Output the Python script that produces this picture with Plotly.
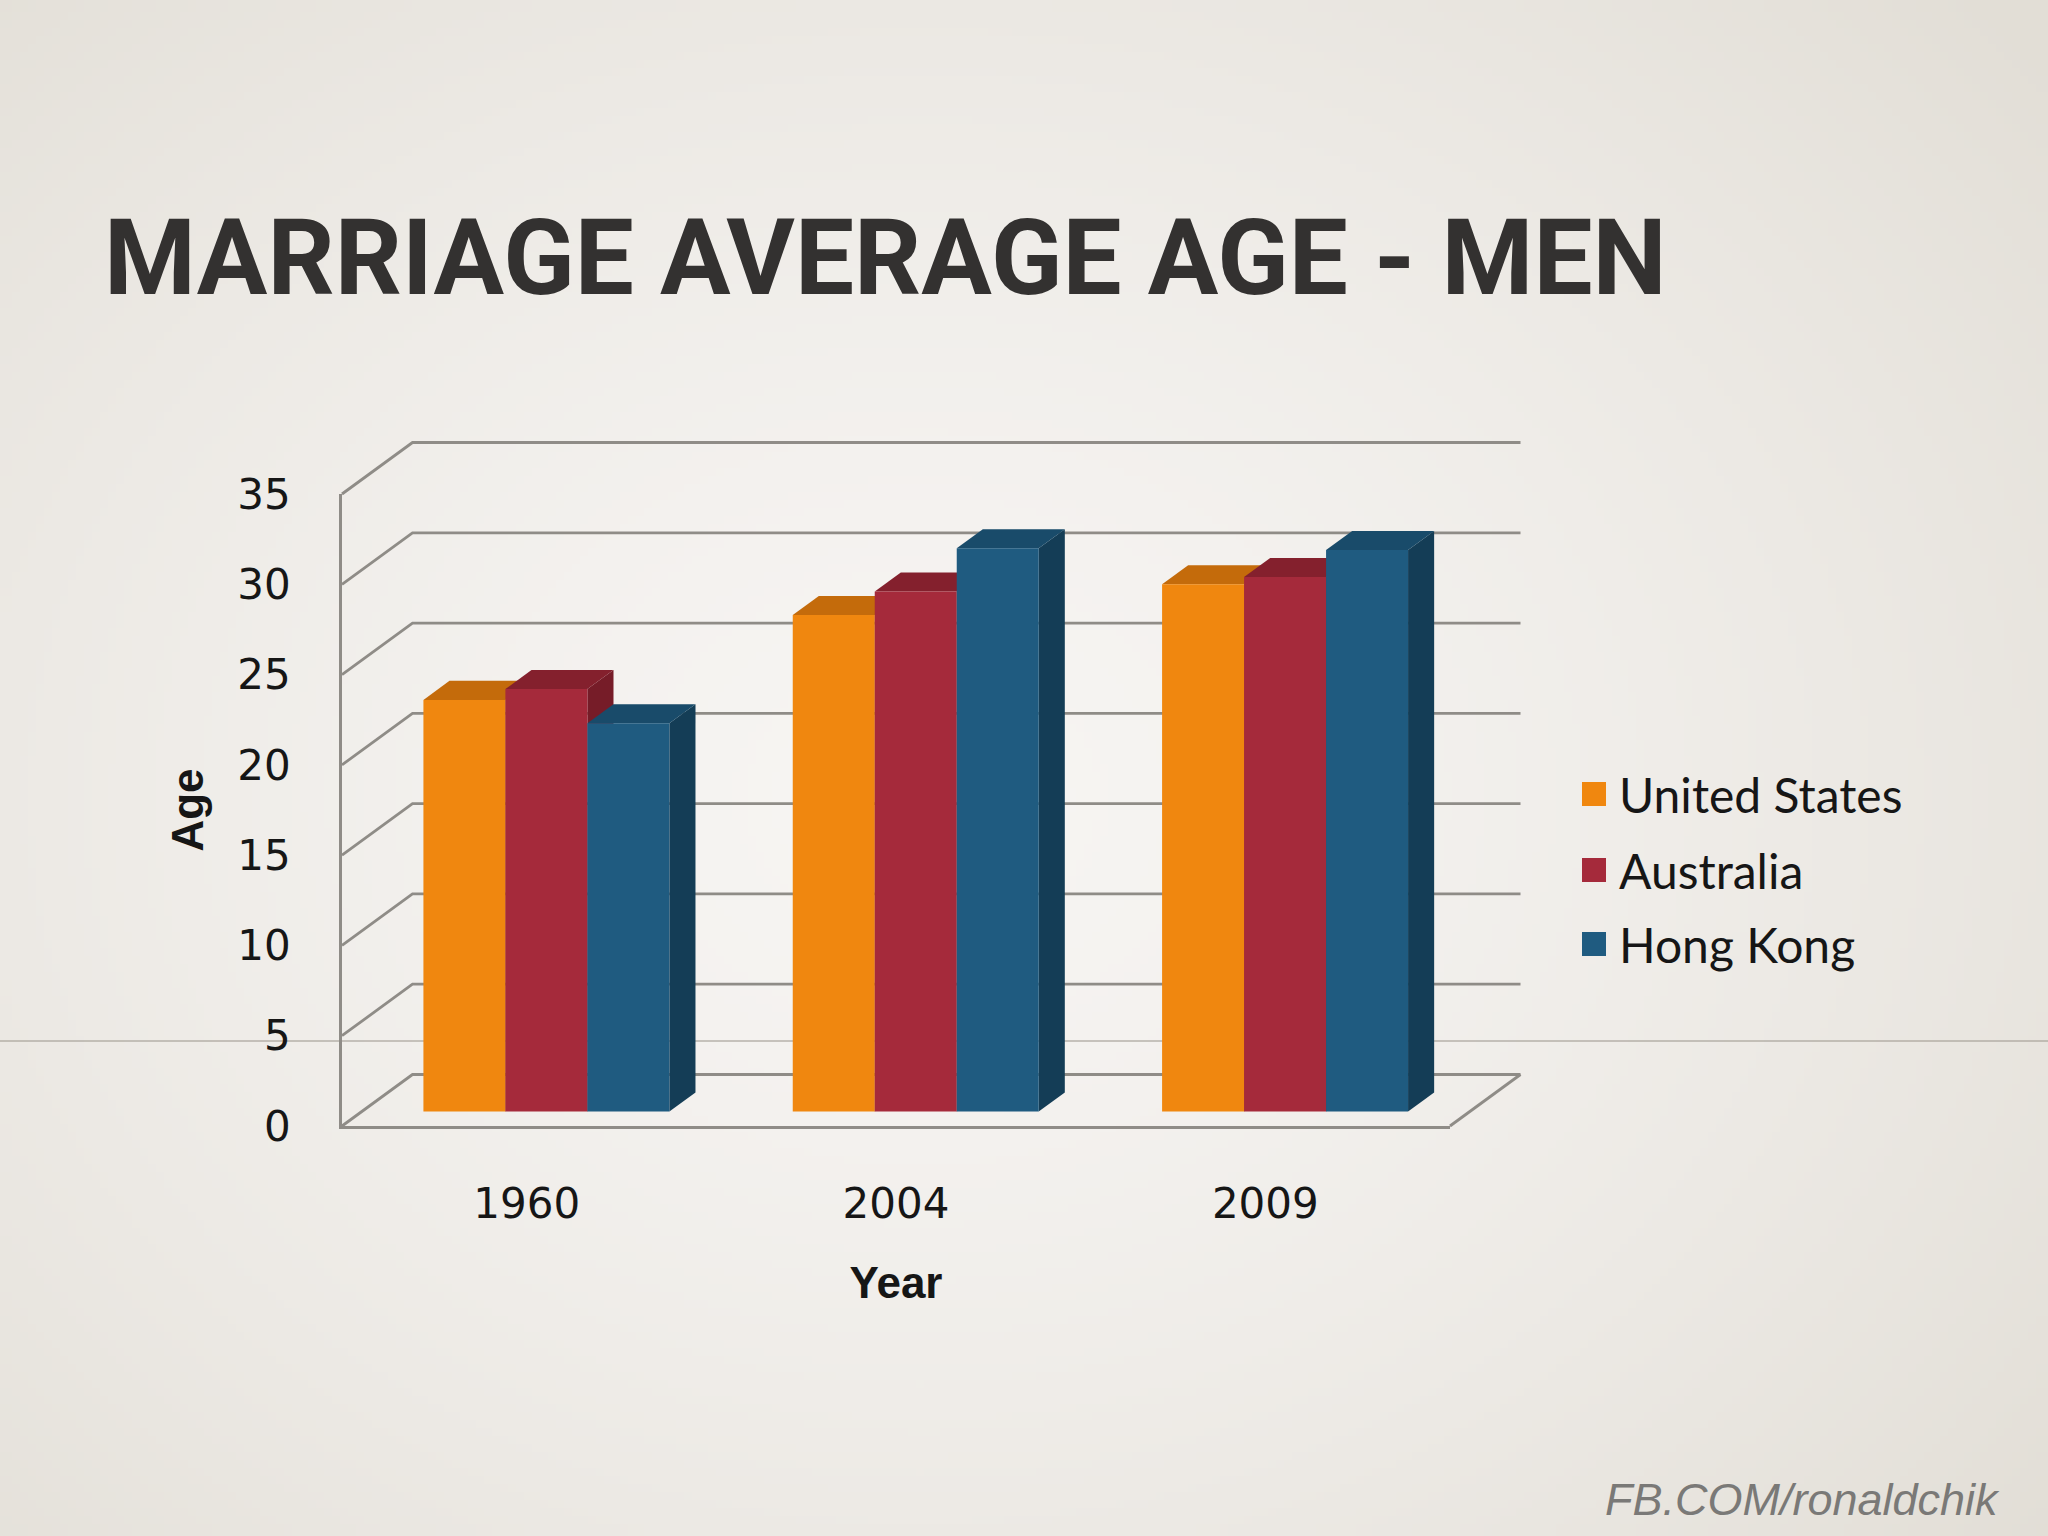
import base64
import struct
import zlib

import numpy as np
import plotly.graph_objects as go

# ---------------- data ----------------
YEARS = ["1960", "2004", "2009"]
SERIES = ["United States", "Australia", "Hong Kong"]
UNITED_STATES = [22.8, 27.5, 29.2]
AUSTRALIA = [23.4, 28.8, 29.6]
HONG_KONG = [21.5, 31.2, 31.1]
Y_TICKS = [0, 5, 10, 15, 20, 25, 30, 35]
TITLE = "MARRIAGE AVERAGE AGE - MEN"
X_TITLE = "Year"
Y_TITLE = "Age"
CREDIT = "FB.COM/ronaldchik"

VALUES = [UNITED_STATES, AUSTRALIA, HONG_KONG]

# ---------------- style / layout constants ----------------
FIG_W, FIG_H = 2048, 1536
FRONT_L, FRONT_R = 342.0, 1450.0      # front (axis) plane, px
FRONT_Y0, FRONT_YTOP = 1126.0, 494.0  # px of 0 and of top tick on the front plane
DEPTH_DX, DEPTH_DY = 70.5, 51.5       # full depth of the 3-D box, px (right, up)
BAR_FRONT_F, BAR_BACK_F = 0.28, 0.65  # bar front/back planes as depth fractions
BAR_W = 0.222                         # bar width in category units

FRONT_COLORS = ["#f0870f", "#a52a3b", "#1f5b80"]
TOP_COLORS = ["#c46b0b", "#84202d", "#194b6a"]
SIDE_COLORS = ["#b05f09", "#761c28", "#143d56"]
GRID_COLOR = "#8f8c87"
TEXT_COLOR = "#161616"

y_max = Y_TICKS[-1]
n_cat = len(YEARS)
band = (FRONT_R - FRONT_L) / n_cat
y_unit = (FRONT_Y0 - FRONT_YTOP) / y_max
dxu = DEPTH_DX / band
dyu = DEPTH_DY / y_unit

# main (bar-plane) axes span the whole figure
bar_x0_px = FRONT_L + BAR_FRONT_F * DEPTH_DX
x_min = -0.5 - bar_x0_px / band
x_max = x_min + FIG_W / band
bar_y0_px = FRONT_Y0 - BAR_FRONT_F * DEPTH_DY
y_min = -(FIG_H - bar_y0_px) / y_unit
y_max_axis = y_min + FIG_H / y_unit


def P(x, v, f):
    """point at category position x, value v, depth fraction f (0 front, 1 back)"""
    return x + (f - BAR_FRONT_F) * dxu, v + (f - BAR_FRONT_F) * dyu


def path(points):
    s = "M " + " L ".join(f"{px:.5f},{py:.5f}" for px, py in points)
    return s + " Z"


def open_path(points):
    return "M " + " L ".join(f"{px:.5f},{py:.5f}" for px, py in points)


def gradient_png(w=256, h=192):
    yy, xx = np.mgrid[0:h, 0:w]
    u = xx / (w - 1)
    v = yy / (h - 1)
    r = np.sqrt(((u - 0.45) / 0.72) ** 2 + ((v - 0.52) / 0.78) ** 2)
    t = np.clip(r, 0, 1) ** 1.5
    c0 = np.array([247.0, 245.0, 243.0])
    c1 = np.array([226.0, 222.0, 214.0])
    img = (c0 + (c1 - c0) * t[..., None]).astype(np.uint8)
    raw = b"".join(b"\x00" + img[row].tobytes() for row in range(h))

    def chunk(tag, data):
        return (struct.pack(">I", len(data)) + tag + data
                + struct.pack(">I", zlib.crc32(tag + data) & 0xFFFFFFFF))

    png = (b"\x89PNG\r\n\x1a\n"
           + chunk(b"IHDR", struct.pack(">IIBBBBB", w, h, 8, 2, 0, 0, 0))
           + chunk(b"IDAT", zlib.compress(raw, 9))
           + chunk(b"IEND", b""))
    return "data:image/png;base64," + base64.b64encode(png).decode()


fig = go.Figure()

# front faces of the bars
offsets = [-1.5 * BAR_W + j * BAR_W for j in range(len(SERIES))]
for j, name in enumerate(SERIES):
    fig.add_trace(go.Bar(
        x=list(range(n_cat)), y=VALUES[j], name=name,
        width=BAR_W, offset=offsets[j],
        marker=dict(color=FRONT_COLORS[j], line=dict(width=0)),
        xaxis="x", yaxis="y", showlegend=False, hoverinfo="name+y",
    ))

# dummy trace so the front-plane axis subplot exists
fig.add_trace(go.Scatter(x=[None], y=[None], xaxis="x2", yaxis="y2",
                         showlegend=False, hoverinfo="skip"))

shapes = []
# faint horizontal line across the slide
shapes.append(dict(type="line", xref="paper", yref="paper", x0=0, x1=1,
                   y0=1 - 1041 / FIG_H, y1=1 - 1041 / FIG_H, layer="below",
                   line=dict(color="rgba(160,155,145,0.55)", width=2)))

# walls: side-wall diagonals + back-wall gridlines
for t in Y_TICKS:
    shapes.append(dict(type="path", xref="x", yref="y", layer="below",
                       path=open_path([P(-0.5, t, 0), P(-0.5, t, 1), P(n_cat - 0.5, t, 1)]),
                       line=dict(color=GRID_COLOR, width=2.8)))
# floor right edge
shapes.append(dict(type="path", xref="x", yref="y", layer="below",
                   path=open_path([P(n_cat - 0.5, 0, 0), P(n_cat - 0.5, 0, 1)]),
                   line=dict(color=GRID_COLOR, width=2.8)))

# top and side faces of the bars
for i in range(n_cat):
    for j in range(len(SERIES)):
        v = VALUES[j][i]
        xl = i + offsets[j]
        xr = xl + BAR_W
        side = [P(xr, 0, BAR_FRONT_F), P(xr, v, BAR_FRONT_F),
                P(xr, v, BAR_BACK_F), P(xr, 0, BAR_BACK_F)]
        top = [P(xl, v, BAR_FRONT_F), P(xr, v, BAR_FRONT_F),
               P(xr, v, BAR_BACK_F), P(xl, v, BAR_BACK_F)]
        shapes.append(dict(type="path", xref="x", yref="y", layer="below",
                           path=path(side), fillcolor=SIDE_COLORS[j],
                           line=dict(width=0)))
        shapes.append(dict(type="path", xref="x", yref="y", layer="below",
                           path=path(top), fillcolor=TOP_COLORS[j],
                           line=dict(width=0)))

# legend swatches
LEG_X0, LEG_SW = 1582, 24
LEG_Y = [794, 870, 944]
annotations = []
for j, name in enumerate(SERIES):
    cy = LEG_Y[j]
    shapes.append(dict(type="rect", xref="paper", yref="paper",
                       x0=LEG_X0 / FIG_W, x1=(LEG_X0 + LEG_SW) / FIG_W,
                       y0=1 - (cy + LEG_SW / 2) / FIG_H, y1=1 - (cy - LEG_SW / 2) / FIG_H,
                       fillcolor=FRONT_COLORS[j], line=dict(width=0)))
    annotations.append(dict(text=name, xref="paper", yref="paper",
                            x=1617 / FIG_W, y=1 - cy / FIG_H,
                            xanchor="left", yanchor="middle", showarrow=False,
                            font=dict(family="Lato, Open Sans, sans-serif",
                                      size=48, color=TEXT_COLOR)))

annotations.append(dict(text=CREDIT, xref="paper", yref="paper",
                        x=2002 / FIG_W, y=1 - 1499 / FIG_H,
                        xanchor="right", yanchor="middle", showarrow=False,
                        font=dict(family="Liberation Sans, Arial, sans-serif",
                                  size=45, color="#7a7977", style="italic")))

tick_font = dict(family="DejaVu Sans, sans-serif", size=42, color=TEXT_COLOR)
title_font = dict(family="Liberation Sans, Arial, sans-serif", size=44,
                  color=TEXT_COLOR, weight="bold")

fig.update_layout(
    width=FIG_W, height=FIG_H,
    margin=dict(l=0, r=0, t=0, b=0, pad=0, autoexpand=False),
    paper_bgcolor="#e9e6e0",
    plot_bgcolor="rgba(0,0,0,0)",
    barmode="overlay",
    showlegend=False,
    title=dict(text=TITLE, x=104 / FIG_W, xref="paper", xanchor="left",
               y=1 - 257 / FIG_H, yref="paper", yanchor="middle", automargin=False,
               font=dict(family="Roboto, Liberation Sans, sans-serif",
                         size=105, color="#333130", weight="bold")),
    xaxis=dict(domain=[0, 1], range=[x_min, x_max], visible=False,
               fixedrange=True, automargin=False),
    yaxis=dict(domain=[0, 1], range=[y_min, y_max_axis], visible=False,
               fixedrange=True, automargin=False),
    xaxis2=dict(domain=[FRONT_L / FIG_W, FRONT_R / FIG_W], range=[-0.5, n_cat - 0.5],
                anchor="y2", tickmode="array", tickvals=list(range(n_cat)), ticktext=YEARS,
                showline=True, linecolor=GRID_COLOR, linewidth=2.8,
                ticks="outside", ticklen=39, tickcolor="rgba(0,0,0,0)",
                showgrid=False, zeroline=False, tickfont=tick_font, fixedrange=True,
                automargin=False,
                title=dict(text=X_TITLE, font=title_font, standoff=40)),
    yaxis2=dict(domain=[(FIG_H - FRONT_Y0) / FIG_H, (FIG_H - FRONT_YTOP) / FIG_H],
                range=[0, y_max], anchor="x2", tickmode="array", tickvals=Y_TICKS,
                showline=True, linecolor=GRID_COLOR, linewidth=2.8,
                ticks="outside", ticklen=40, tickcolor="rgba(0,0,0,0)",
                showgrid=False, zeroline=False, tickfont=tick_font, fixedrange=True,
                automargin=False,
                title=dict(text=Y_TITLE, font=title_font, standoff=20)),
    images=[dict(source=gradient_png(), xref="paper", yref="paper", x=0, y=1,
                 sizex=1, sizey=1, sizing="stretch", xanchor="left", yanchor="top",
                 layer="below")],
    shapes=shapes,
    annotations=annotations,
)

fig.write_html("out.html")
